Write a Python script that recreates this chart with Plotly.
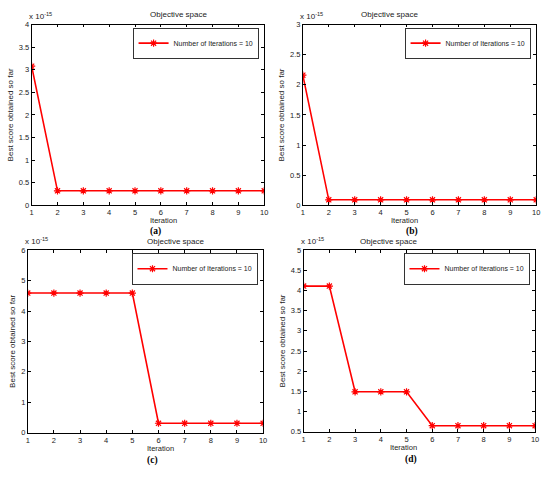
import plotly.graph_objects as go

# Convergence data (values in units of 1e-15)
iterations = list(range(1, 11))
score_a = [3.08, 0.32, 0.32, 0.32, 0.32, 0.32, 0.32, 0.32, 0.32, 0.32]
score_b = [2.16, 0.09, 0.09, 0.09, 0.09, 0.09, 0.09, 0.09, 0.09, 0.09]
score_c = [4.59, 4.59, 4.59, 4.59, 4.59, 0.31, 0.31, 0.31, 0.31, 0.31]
score_d = [4.11, 4.11, 1.49, 1.49, 1.49, 0.65, 0.65, 0.65, 0.65, 0.65]

y_ranges = [[0, 4], [0, 3], [0, 6], [0.5, 5]]
y_ticks = [
    [0, 0.5, 1, 1.5, 2, 2.5, 3, 3.5, 4],
    [0, 0.5, 1, 1.5, 2, 2.5, 3],
    [0, 1, 2, 3, 4, 5, 6],
    [0.5, 1, 1.5, 2, 2.5, 3, 3.5, 4, 4.5, 5],
]
captions = ["(a)", "(b)", "(c)", "(d)"]
series = [score_a, score_b, score_c, score_d]

# panel domains (paper coords)
x_doms = [[0.0545, 0.482], [0.553, 0.982], [0.0473, 0.48], [0.5545, 0.98]]
y_doms = [[0.570, 0.956], [0.570, 0.956], [0.084, 0.474], [0.086, 0.474]]
cap_gap = [0.0566, 0.0566, 0.0587, 0.0587]
title_gap = [0.008, 0.008, 0.004, 0.004]

fig = go.Figure()
font = "Liberation Sans, Arial, sans-serif"

for i, ys in enumerate(series):
    n = "" if i == 0 else str(i + 1)
    fig.add_trace(go.Scatter(
        x=iterations, y=ys, mode="lines+markers",
        name="Number of Iterations = 10", showlegend=True,
        line=dict(color="#ff0000", width=1.6),
        marker=dict(symbol="asterisk", size=6, color="#ff0000",
                    line=dict(color="#ff0000", width=1.2)),
        xaxis="x" + n, yaxis="y" + n, legend="legend" + n,
    ))
    axis_common = dict(showline=True, linecolor="black", linewidth=0.8, mirror="ticks",
                       ticks="inside", ticklen=3, tickcolor="black", showgrid=False,
                       zeroline=False, tickfont=dict(family=font, size=7.5, color="#222"))
    fig.layout["xaxis" + n] = dict(
        axis_common, domain=x_doms[i], range=[1, 10], tickvals=iterations,
        anchor="y" + n,
    )
    fig.layout["yaxis" + n] = dict(
        axis_common, domain=y_doms[i], range=y_ranges[i], tickvals=y_ticks[i],
        anchor="x" + n,
        title=dict(text="Best score obtained so far", font=dict(family=font, size=8, color="#222"),
                   standoff=4),
    )
    x0, x1 = x_doms[i]
    y0, y1 = y_doms[i]
    fig.layout["legend" + n] = dict(
        x=x1 - 0.01, y=y1 - 0.007, xanchor="right", yanchor="top",
        bgcolor="white", bordercolor="black", borderwidth=0.8,
        font=dict(family=font, size=7, color="#222"),
        itemwidth=30, tracegroupgap=0,
    )
    fig.add_annotation(x=(x0 + x1) / 2, y=y0 - 0.0335, xref="paper", yref="paper",
                       text="Iteration", showarrow=False, yanchor="middle",
                       font=dict(family=font, size=7.5, color="#222"))
    fig.add_annotation(x=(x0 + x1) / 2, y=y1 + title_gap[i], xref="paper", yref="paper",
                       text="Objective space", showarrow=False, yanchor="bottom",
                       font=dict(family=font, size=8, color="#222"))
    fig.add_annotation(x=x0 - 0.008, y=y1 + 0.004, xref="paper", yref="paper",
                       text="x 10<sup>-15</sup>", showarrow=False, xanchor="left", yanchor="bottom",
                       font=dict(family=font, size=8, color="#222"))
    fig.add_annotation(x=(x0 + x1) / 2, y=y0 - cap_gap[i], xref="paper", yref="paper",
                       text="<b>" + captions[i] + "</b>", showarrow=False, yanchor="middle",
                       font=dict(family="Liberation Serif, Times New Roman, serif", size=9.5, color="black"))

fig.update_layout(
    width=550, height=477,
    margin=dict(l=0, r=0, t=0, b=0),
    plot_bgcolor="white", paper_bgcolor="white",
    showlegend=True,
)

fig.write_html("out.html", config={"displayModeBar": False},
               post_script="document.body.style.margin='0';")
